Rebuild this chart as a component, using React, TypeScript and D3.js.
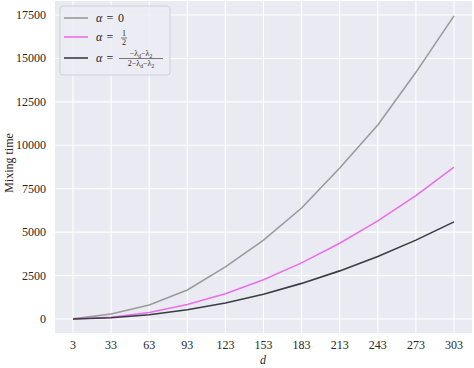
import * as d3 from 'd3';

const dims = [3, 33, 63, 93, 123, 153, 183, 213, 243, 273, 303];
const alphaZero = [5, 290, 806, 1670, 3000, 4540, 6390, 8690, 11170, 14200, 17450];
const alphaHalf = [3, 105, 370, 830, 1450, 2260, 3230, 4360, 5650, 7100, 8740];
const alphaOpt = [2, 70, 245, 530, 925, 1430, 2050, 2770, 3600, 4540, 5590];
const yTicks = [0, 2500, 5000, 7500, 10000, 12500, 15000, 17500];

const W = 474;
const H = 368;
const left = 55, right = 472, top = 1, bottom = 333;
const font = '"Liberation Serif", "DejaVu Serif", serif';

export default function App() {
  const x = d3.scaleLinear().domain([3, 303]).range([73, 454]);
  const y = d3.scaleLinear().domain([0, 17500]).range([319, 15]);

  const line = d3.line<number>().x((_, i) => x(dims[i])).y(d => y(d));

  const series = [
    { vals: alphaZero, color: '#9b9b9b' },
    { vals: alphaHalf, color: '#ea6fea' },
    { vals: alphaOpt, color: '#3b3b44' },
  ];

  const lambdas = (prefix: string) => (
    <>
      {prefix}λ<tspan fontSize={5.5} dy={1.5}>d</tspan><tspan dy={-1.5}>−λ</tspan><tspan fontSize={5.5} dy={1.5}>2</tspan>
    </>
  );

  return (
    <svg width={W} height={H} style={{ position: 'absolute', left: 0, top: 0 }}>
      <rect x={left} y={top} width={right - left} height={bottom - top} fill="#eaeaf2" />
      {dims.map(d => (
        <line key={'gx' + d} x1={x(d)} x2={x(d)} y1={top} y2={bottom} stroke="#fff" strokeWidth={1.1} />
      ))}
      {yTicks.map(t => (
        <line key={'gy' + t} x1={left} x2={right} y1={y(t)} y2={y(t)} stroke="#fff" strokeWidth={1.1} />
      ))}
      {series.map((s, i) => (
        <path key={i} d={line(s.vals) || ''} fill="none" stroke={s.color} strokeWidth={1.6} />
      ))}
      {dims.map(d => (
        <text key={'tx' + d} x={x(d)} y={349} textAnchor="middle" fontFamily={font} fontSize={12} fill="#262626">{d}</text>
      ))}
      {yTicks.map(t => (
        <text key={'ty' + t} x={46} y={y(t) + 4} textAnchor="end" fontFamily={font} fontSize={12} fill="#262626">{t}</text>
      ))}
      <text x={263} y={364} textAnchor="middle" fontFamily={font} fontSize={12} fontStyle="italic" fill="#262626">d</text>
      <text transform="translate(13,163) rotate(-90)" textAnchor="middle" fontFamily={font} fontSize={12} fill="#262626">Mixing time</text>

      <g fontFamily={font} fill="#262626">
        <rect x={60} y={6} width={110} height={69} rx={3} fill="#ececf4" fillOpacity={0.85} stroke="#cfcfd6" strokeWidth={1} />
        <line x1={64} x2={88} y1={18} y2={18} stroke={series[0].color} strokeWidth={1.6} />
        <line x1={64} x2={88} y1={37} y2={37} stroke={series[1].color} strokeWidth={1.6} />
        <line x1={64} x2={88} y1={58} y2={58} stroke={series[2].color} strokeWidth={1.6} />

        <text x={96} y={22} fontSize={12} fontStyle="italic">α</text>
        <text x={110} y={22} fontSize={12} textAnchor="middle">=</text>
        <text x={118} y={22} fontSize={12}>0</text>

        <text x={96} y={41} fontSize={12} fontStyle="italic">α</text>
        <text x={110} y={41} fontSize={12} textAnchor="middle">=</text>
        <text x={124} y={36} fontSize={8} textAnchor="middle">1</text>
        <line x1={121} x2={127} y1={38} y2={38} stroke="#262626" strokeWidth={0.6} />
        <text x={124} y={45} fontSize={8} textAnchor="middle">2</text>

        <text x={96} y={62} fontSize={12} fontStyle="italic">α</text>
        <text x={110} y={62} fontSize={12} textAnchor="middle">=</text>
        <text x={141} y={56} fontSize={8} textAnchor="middle">{lambdas('−')}</text>
        <line x1={119} x2={163} y1={58.5} y2={58.5} stroke="#262626" strokeWidth={0.6} />
        <text x={141} y={66} fontSize={8} textAnchor="middle">{lambdas('2−')}</text>
      </g>
    </svg>
  );
}
